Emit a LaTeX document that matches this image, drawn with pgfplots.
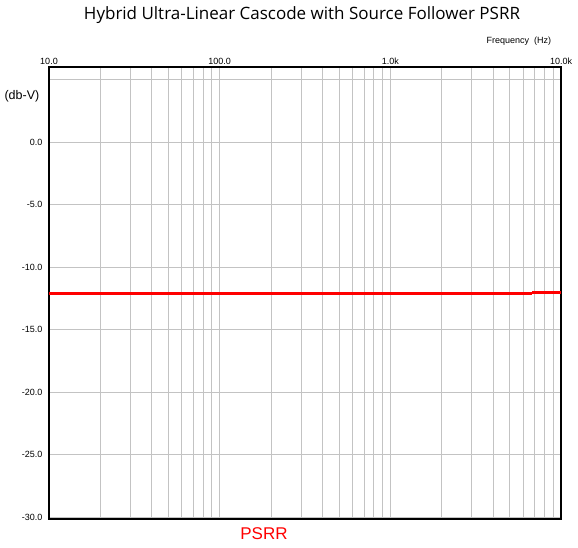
\documentclass[border=0pt]{standalone}
\usepackage{fontspec}
\setmainfont{Liberation Sans}
\newfontfamily\titlefont{Open Sans}
\usepackage{pgfplots}
\pgfplotsset{compat=1.18}
\definecolor{gridgray}{RGB}{195,195,195}
\definecolor{psrrred}{RGB}{255,0,0}

\begin{document}
\begin{tikzpicture}[x=1pt,y=1pt]
  % page frame, 578 x 547 with the axis box at (0,0)-(512,452)
  \useasboundingbox (-49,-28) rectangle (529,519);
  \begin{axis}[
    at={(0,0)}, anchor=south west,
    scale only axis,
    width=512pt, height=452pt,
    xmode=log,
    xmin=10, xmax=10000,
    ymin=-30.15, ymax=6,
    xtick={10,100,1000,10000},
    xticklabels={10.0,100.0,1.0k,10.0k},
    xticklabel pos=top,
    ytick={-30,-25,-20,-15,-10,-5,0,5},
    yticklabels={-30.0,-25.0,-20.0,-15.0,-10.0,-5.0,0.0,{}},
    minor x tick num=8,
    major tick length=0pt, minor tick length=0pt,
    grid=both,
    major grid style={gridgray, line width=0.8pt},
    minor grid style={gridgray, line width=0.8pt},
    axis line style={black, line width=1.2pt},
    tick label style={font=\fontsize{9}{10}\selectfont},
    /pgf/number format/assume math mode=true,
    xticklabel style={yshift=-1pt},
    yticklabel style={xshift=-3pt},
    clip=false,
  ]
    \addplot[psrrred, line width=2.8pt] coordinates {
      (10,-12.1) (6800,-12.1)
    };
    \addplot[psrrred, line width=2.8pt] coordinates {
      (6800,-12.02) (10000,-12.02)
    };
  \end{axis}
  \node[font=\titlefont\fontsize{17}{20}\selectfont] at (253,504) {Hybrid Ultra-Linear Cascode with Source Follower PSRR};
  \node[anchor=west, font=\fontsize{9}{10}\selectfont] at (434,478) {Frequency\ \ (Hz)};
  \node[anchor=west, font=\fontsize{12.5}{14}\selectfont] at (-48,423) {(db-V)};
  \node[font=\fontsize{17}{20}\selectfont, text=psrrred] at (215,-15) {PSRR};
\end{tikzpicture}
\end{document}
